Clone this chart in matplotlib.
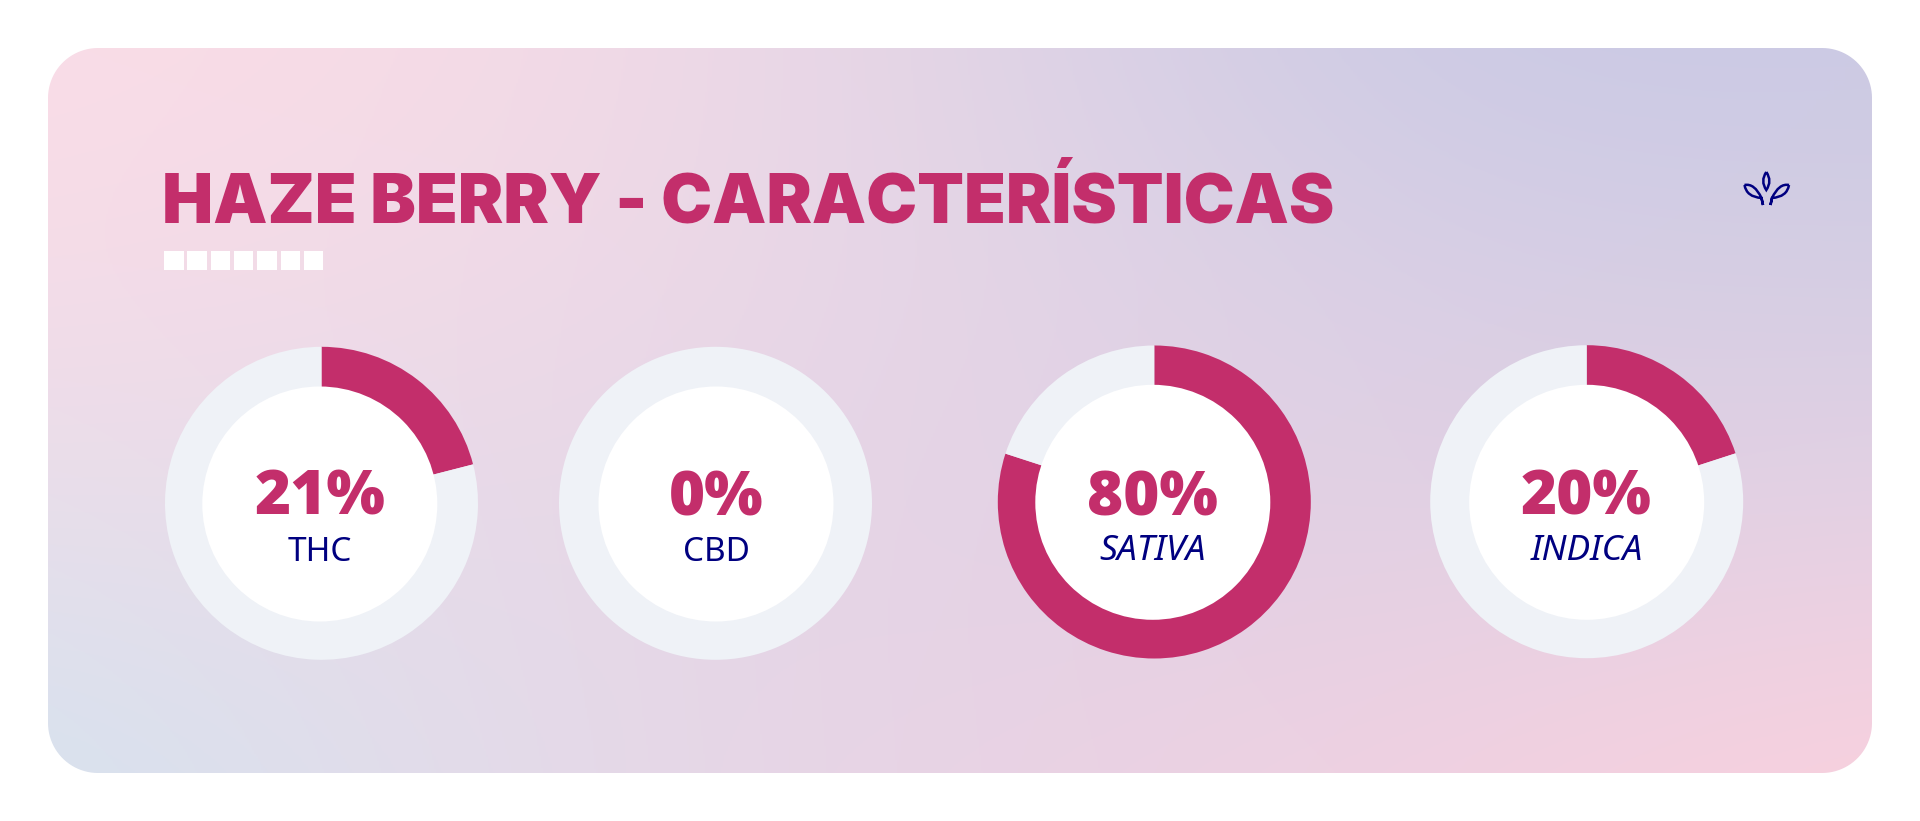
import numpy as np
import matplotlib
matplotlib.use("Agg")
import matplotlib.pyplot as plt
from matplotlib.colors import to_rgb
from matplotlib.patches import Circle, Rectangle, PathPatch
from matplotlib.path import Path

W, H = 1920, 821
TITLE = "HAZE BERRY - CARACTERÍSTICAS"
LABELS = ["THC", "CBD", "SATIVA", "INDICA"]
VALUES = [21, 0, 80, 20]
TOTAL = 100
ITALIC = [False, False, True, True]

PINK = "#C32E6B"
TRACK = "#EFF2F7"
NAVY = "#000080"
BG_GRID = [
    ["#FBDDE7", "#F6DBE6", "#E2D5E6", "#C9C9E4", "#CBCAE4"],
    ["#F5DCE8", "#F0DAE8", "#E5D5E6", "#D9CFE4", "#D5CEE4"],
    ["#E6DFEB", "#E6DAE8", "#E4D2E5", "#E0CFE3", "#E6D2E4"],
    ["#D4E4F0", "#E5DBE9", "#E8D2E4", "#F1D1E1", "#FBD0DD"],
]

OUTER = [(321.5, 503.3), (715.5, 503.3), (1154.3, 502.0), (1586.7, 501.7)]
INNER = [(319.8, 504.0), (716.0, 504.0), (1152.8, 502.3), (1586.7, 502.3)]
R_OUT, R_IN = 156.5, 117.5
TEXT_X = [320, 716, 1152.3, 1586.5]
PCT_Y = [514.5, 515.5, 515.5, 514.5]
LAB_Y = [561, 561, 560, 560]

fig = plt.figure(figsize=(W / 100, H / 100), dpi=100, facecolor="white")

bg = fig.add_axes([0, 0, 1, 1], zorder=0)
bg.set_axis_off()
img = np.array([[to_rgb(c) for c in row] for row in BG_GRID])
nr, nc = img.shape[:2]
x0, x1, y0, y1 = 48, 1872, 48, 773
rad = 50
dx, dy = (x1 - x0) / (nc - 1), (y1 - y0) / (nr - 1)
im = bg.imshow(img, extent=(x0 - dx / 2, x1 + dx / 2, y1 + dy / 2, y0 - dy / 2),
               interpolation="bicubic", aspect="auto")
bg.set_xlim(0, W)
bg.set_ylim(H, 0)

pts = []
for (cx, cy, a0) in [(x1 - rad, y0 + rad, -90), (x1 - rad, y1 - rad, 0),
                     (x0 + rad, y1 - rad, 90), (x0 + rad, y0 + rad, 180)]:
    t = np.deg2rad(np.linspace(a0, a0 + 90, 24))
    pts.extend(zip(cx + rad * np.cos(t), cy + rad * np.sin(t)))
pts.append(pts[0])
card = PathPatch(Path(pts), fc="none", ec="none", transform=bg.transData)
bg.add_patch(card)
im.set_clip_path(card)

for (cx, cy), v in zip(OUTER, VALUES):
    ax = fig.add_axes([(cx - R_OUT) / W, 1 - (cy + R_OUT) / H, 2 * R_OUT / W, 2 * R_OUT / H], zorder=1)
    ax.pie([v, TOTAL - v], colors=[PINK, TRACK], startangle=90, counterclock=False,
           radius=1, wedgeprops=dict(width=0.5, linewidth=0))
    ax.set_xlim(-1, 1)
    ax.set_ylim(-1, 1)
    ax.set_axis_off()

ov = fig.add_axes([0, 0, 1, 1], zorder=2)
ov.set_xlim(0, W)
ov.set_ylim(H, 0)
ov.set_axis_off()
ov.patch.set_alpha(0)

for (cx, cy) in INNER:
    ov.add_patch(Circle((cx, cy), R_IN, fc="white", ec="none"))

ov.text(162, 222.8, TITLE, color=PINK, fontsize=49.1, family="Inter", fontweight=900,
        ha="left", va="baseline")

for i in range(7):
    ov.add_patch(Rectangle((164 + i * 23.3, 251), 19.5, 19.5, fc="white", ec="none"))

for x, v, py, ly, lab, it in zip(TEXT_X, VALUES, PCT_Y, LAB_Y, LABELS, ITALIC):
    ov.text(x, py, f"{v}%", color=PINK, fontsize=44.5, family="Open Sans", fontweight=800,
            ha="center", va="baseline")
    ov.text(x, ly, lab, color=NAVY, fontsize=25.5 if it else 24, family="Noto Sans",
            style="italic" if it else "normal", ha="center", va="baseline")

LW = 1.8
ov.add_patch(PathPatch(Path([(1766.3, 172), (1772.5, 181), (1766.3, 190), (1760.1, 181), (1766.3, 172)],
                            [Path.MOVETO, Path.CURVE3, Path.CURVE3, Path.CURVE3, Path.CURVE3]),
                       fc="none", ec=NAVY, lw=LW))
for s, xc in [(1, 1744.5), (-1, 1789)]:
    base = 1762.5 if s == 1 else 1771
    verts = [(xc, 185), (xc + s * 10, 183), (base - s * 1, 198), (base + s * 0.5, 205),
             (base - s * 1, 198), (xc + s * 2, 197), (xc, 185)]
    codes = [Path.MOVETO, Path.CURVE3, Path.CURVE3, Path.LINETO, Path.LINETO, Path.CURVE3, Path.CURVE3]
    ov.add_patch(PathPatch(Path(verts, codes), fc="none", ec=NAVY, lw=LW))

fig.savefig("out.png", dpi=100, facecolor="white")
